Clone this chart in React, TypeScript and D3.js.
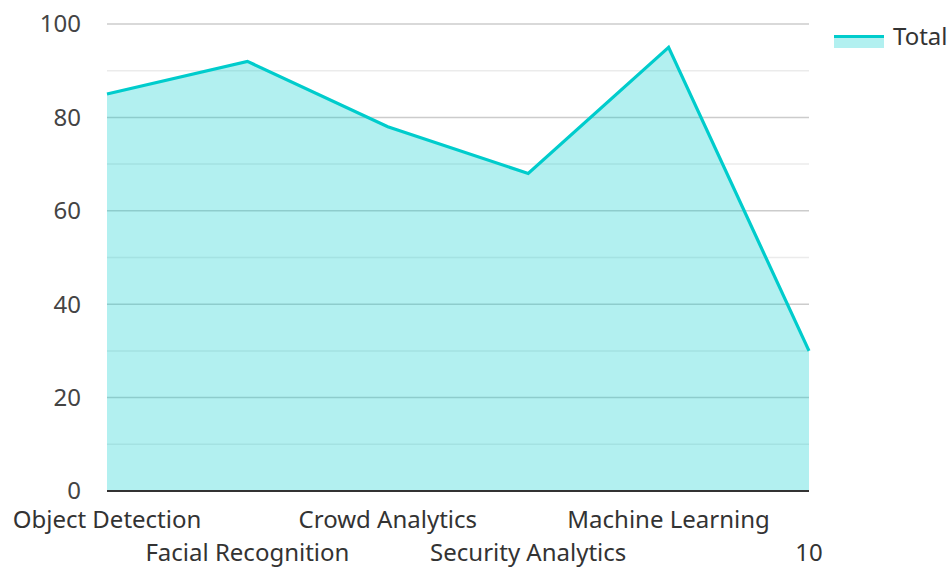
import { useEffect, useRef } from 'react';
import * as d3 from 'd3';

const categories = ['Object Detection', 'Facial Recognition', 'Crowd Analytics', 'Security Analytics', 'Machine Learning', '10'];
const totals = [85, 92, 78, 68, 95, 30];
const yTicks = [0, 20, 40, 60, 80, 100];
const minorTicks = [10, 30, 50, 70, 90];

export default function App() {
  const svgRef = useRef<SVGSVGElement>(null);
  const width = 950;
  const height = 567;

  useEffect(() => {
    if (!svgRef.current) return;
    const svg = d3.select(svgRef.current);
    svg.selectAll('*').remove();

    const margin = { top: 24, right: 141, bottom: 76, left: 107 };
    const innerWidth = width - margin.left - margin.right;
    const innerHeight = height - margin.top - margin.bottom;

    const x = d3.scalePoint<string>().domain(categories).range([0, innerWidth]);
    const y = d3.scaleLinear().domain([0, 100]).range([innerHeight, 0]);

    const g = svg.append('g').attr('transform', `translate(${margin.left},${margin.top})`);
    const font = '"Noto Sans", sans-serif';

    // Gridlines
    g.selectAll('.minor')
      .data(minorTicks)
      .join('line')
      .attr('x1', 0)
      .attr('x2', innerWidth)
      .attr('y1', d => y(d))
      .attr('y2', d => y(d))
      .attr('stroke', '#ebebeb')
      .attr('stroke-width', 1.5);

    g.selectAll('.major')
      .data(yTicks.filter(d => d > 0))
      .join('line')
      .attr('x1', 0)
      .attr('x2', innerWidth)
      .attr('y1', d => y(d))
      .attr('y2', d => y(d))
      .attr('stroke', '#cccccc')
      .attr('stroke-width', 1.5);

    const pts = categories.map((c, i) => ({ c, v: totals[i] }));

    const area = d3.area<{ c: string; v: number }>()
      .x(d => x(d.c)!)
      .y0(innerHeight)
      .y1(d => y(d.v));

    const line = d3.line<{ c: string; v: number }>()
      .x(d => x(d.c)!)
      .y(d => y(d.v));

    g.append('path')
      .datum(pts)
      .attr('d', area)
      .attr('fill', 'rgba(0,204,204,0.3)');

    g.append('path')
      .datum(pts)
      .attr('d', line)
      .attr('fill', 'none')
      .attr('stroke', '#00cccc')
      .attr('stroke-width', 3.2)
      .attr('stroke-linejoin', 'miter');

    // Baseline
    g.append('line')
      .attr('x1', 0)
      .attr('x2', innerWidth)
      .attr('y1', innerHeight)
      .attr('y2', innerHeight)
      .attr('stroke', '#333')
      .attr('stroke-width', 2);

    // Y tick labels
    g.selectAll('.ytick')
      .data(yTicks)
      .join('text')
      .attr('x', -26)
      .attr('y', d => y(d))
      .attr('dy', '0.35em')
      .attr('text-anchor', 'end')
      .attr('font-family', font)
      .attr('font-size', 24)
      .attr('fill', '#444')
      .text(d => d);

    // X labels, staggered
    g.selectAll('.xtick')
      .data(categories)
      .join('text')
      .attr('x', d => x(d)!)
      .attr('y', (d, i) => innerHeight + (i % 2 === 0 ? 37 : 70))
      .attr('text-anchor', 'middle')
      .attr('font-family', font)
      .attr('font-size', 24)
      .attr('fill', '#333')
      .text(d => d);

    // Legend
    const lg = svg.append('g').attr('transform', 'translate(834,35)');
    lg.append('rect')
      .attr('x', 0)
      .attr('y', 0)
      .attr('width', 50)
      .attr('height', 13)
      .attr('fill', 'rgba(0,204,204,0.3)');
    lg.append('line')
      .attr('x1', 0)
      .attr('x2', 50)
      .attr('y1', 1.5)
      .attr('y2', 1.5)
      .attr('stroke', '#00cccc')
      .attr('stroke-width', 3);
    lg.append('text')
      .attr('x', 59)
      .attr('y', 10)
      .attr('font-family', font)
      .attr('font-size', 24)
      .attr('fill', '#333')
      .text('Total');
  }, []);

  return (
    <svg
      ref={svgRef}
      width={width}
      height={height}
      style={{ position: 'absolute', left: 0, top: 0 }}
    />
  );
}
